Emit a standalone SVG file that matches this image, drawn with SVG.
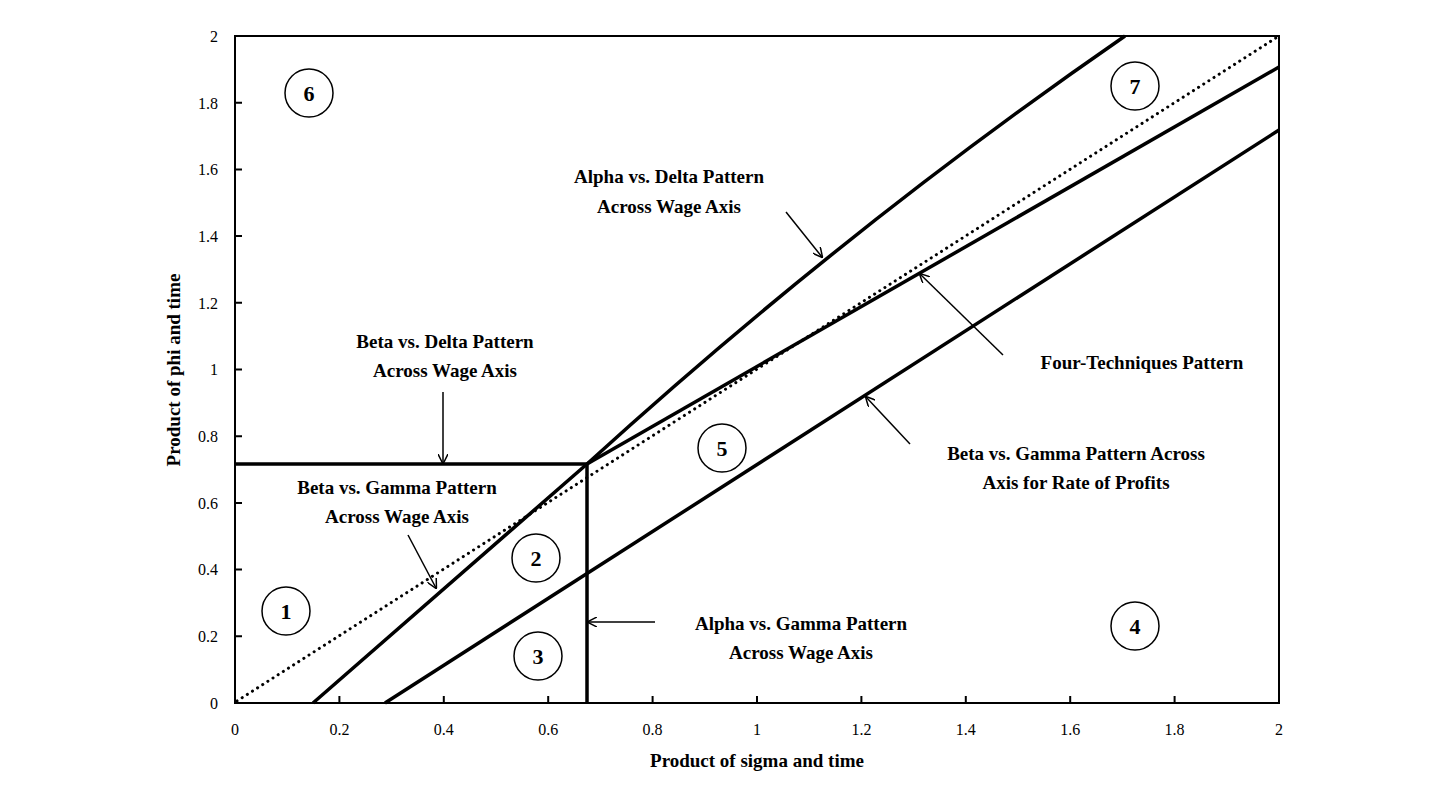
<svg xmlns="http://www.w3.org/2000/svg" width="1440" height="810" viewBox="0 0 1440 810">
<style>
.t{font-family:"Liberation Serif",serif;font-size:16px;fill:#000}
.l{font-family:"Liberation Serif",serif;font-size:19px;font-weight:bold;fill:#000;text-anchor:middle}
.n{font-family:"Liberation Serif",serif;font-size:22px;font-weight:bold;fill:#000;text-anchor:middle}
.c{fill:#fff;stroke:#000;stroke-width:1.5}
.k{stroke:#000;stroke-width:3.5;fill:none}
.a{stroke:#000;stroke-width:1.5;fill:none;marker-end:url(#ar)}
</style>
<defs><marker id="ar" viewBox="0 0 10 10" refX="9" refY="5" markerWidth="10" markerHeight="10" markerUnits="userSpaceOnUse" orient="auto"><path d="M0,0 L10,5 L0,10" fill="none" stroke="#000" stroke-width="1.5"/></marker></defs>
<rect width="1440" height="810" fill="#fff"/>
<g id="axes" stroke="#000" stroke-width="2" fill="none">
<rect x="235" y="36" width="1044" height="667"/>
<path d="M339.4,703v-7M443.8,703v-7M548.2,703v-7M652.6,703v-7M757,703v-7M861.4,703v-7M965.8,703v-7M1070.2,703v-7M1174.6,703v-7M235,636.3h7M235,569.6h7M235,502.9h7M235,436.2h7M235,369.5h7M235,302.8h7M235,236.1h7M235,169.4h7M235,102.7h7"/>
</g>
<g id="ticklabels" class="t">
<g text-anchor="middle"><text x="235" y="735">0</text><text x="339.4" y="735">0.2</text><text x="443.8" y="735">0.4</text><text x="548.2" y="735">0.6</text><text x="652.6" y="735">0.8</text><text x="757" y="735">1</text><text x="861.4" y="735">1.2</text><text x="965.8" y="735">1.4</text><text x="1070.2" y="735">1.6</text><text x="1174.6" y="735">1.8</text><text x="1279" y="735">2</text></g>
<g text-anchor="end"><text x="218" y="709">0</text><text x="218" y="642">0.2</text><text x="218" y="575">0.4</text><text x="218" y="509">0.6</text><text x="218" y="442">0.8</text><text x="218" y="375">1</text><text x="218" y="309">1.2</text><text x="218" y="242">1.4</text><text x="218" y="175">1.6</text><text x="218" y="109">1.8</text><text x="218" y="42">2</text></g>
</g>
<text class="l" x="757" y="767">Product of sigma and time</text>
<text class="l" transform="translate(180,370) rotate(-90)">Product of phi and time</text>
<g id="connectors">
<line x1="237" y1="701" x2="1279" y2="36" stroke="#000" stroke-width="3" stroke-dasharray="0.1 6" stroke-linecap="round"/>
<path class="k" d="M313,703 L587,464 Q844,230 1125,36"/>
<path class="k" d="M587,464 L1279,67"/>
<path class="k" d="M385,703 L1279,130"/>
<path class="k" d="M235,464 H587 V703"/>
<path class="a" d="M443,392 V463"/>
<path class="a" d="M408,535 L436,588"/>
<path class="a" d="M786,212 L822,257"/>
<path class="a" d="M1003,355 L920,274"/>
<path class="a" d="M910,444 L866,397"/>
<path class="a" d="M655,622 L588,622"/>
</g>
<g id="labels">
<text class="l" x="669" y="183">Alpha vs. Delta Pattern</text><text class="l" x="669" y="213">Across Wage Axis</text>
<text class="l" x="445" y="348">Beta vs. Delta Pattern</text><text class="l" x="445" y="377">Across Wage Axis</text>
<text class="l" x="397" y="494">Beta vs. Gamma Pattern</text><text class="l" x="397" y="523">Across Wage Axis</text>
<text class="l" x="1142" y="369">Four-Techniques Pattern</text>
<text class="l" x="1076" y="460">Beta vs. Gamma Pattern Across</text><text class="l" x="1076" y="489">Axis for Rate of Profits</text>
<text class="l" x="801" y="630">Alpha vs. Gamma Pattern</text><text class="l" x="801" y="659">Across Wage Axis</text>
</g>
<g id="n6"><circle class="c" cx="309" cy="93" r="24"/><text class="n" x="309" y="101">6</text></g>
<g id="n7"><circle class="c" cx="1135" cy="86" r="24"/><text class="n" x="1135" y="94">7</text></g>
<g id="n1"><circle class="c" cx="286" cy="611" r="24"/><text class="n" x="286" y="619">1</text></g>
<g id="n2"><circle class="c" cx="536" cy="558" r="24"/><text class="n" x="536" y="566">2</text></g>
<g id="n3"><circle class="c" cx="538" cy="656" r="24"/><text class="n" x="538" y="664">3</text></g>
<g id="n4"><circle class="c" cx="1135" cy="626" r="24"/><text class="n" x="1135" y="634">4</text></g>
<g id="n5"><circle class="c" cx="722" cy="448" r="24"/><text class="n" x="722" y="456">5</text></g>
</svg>
